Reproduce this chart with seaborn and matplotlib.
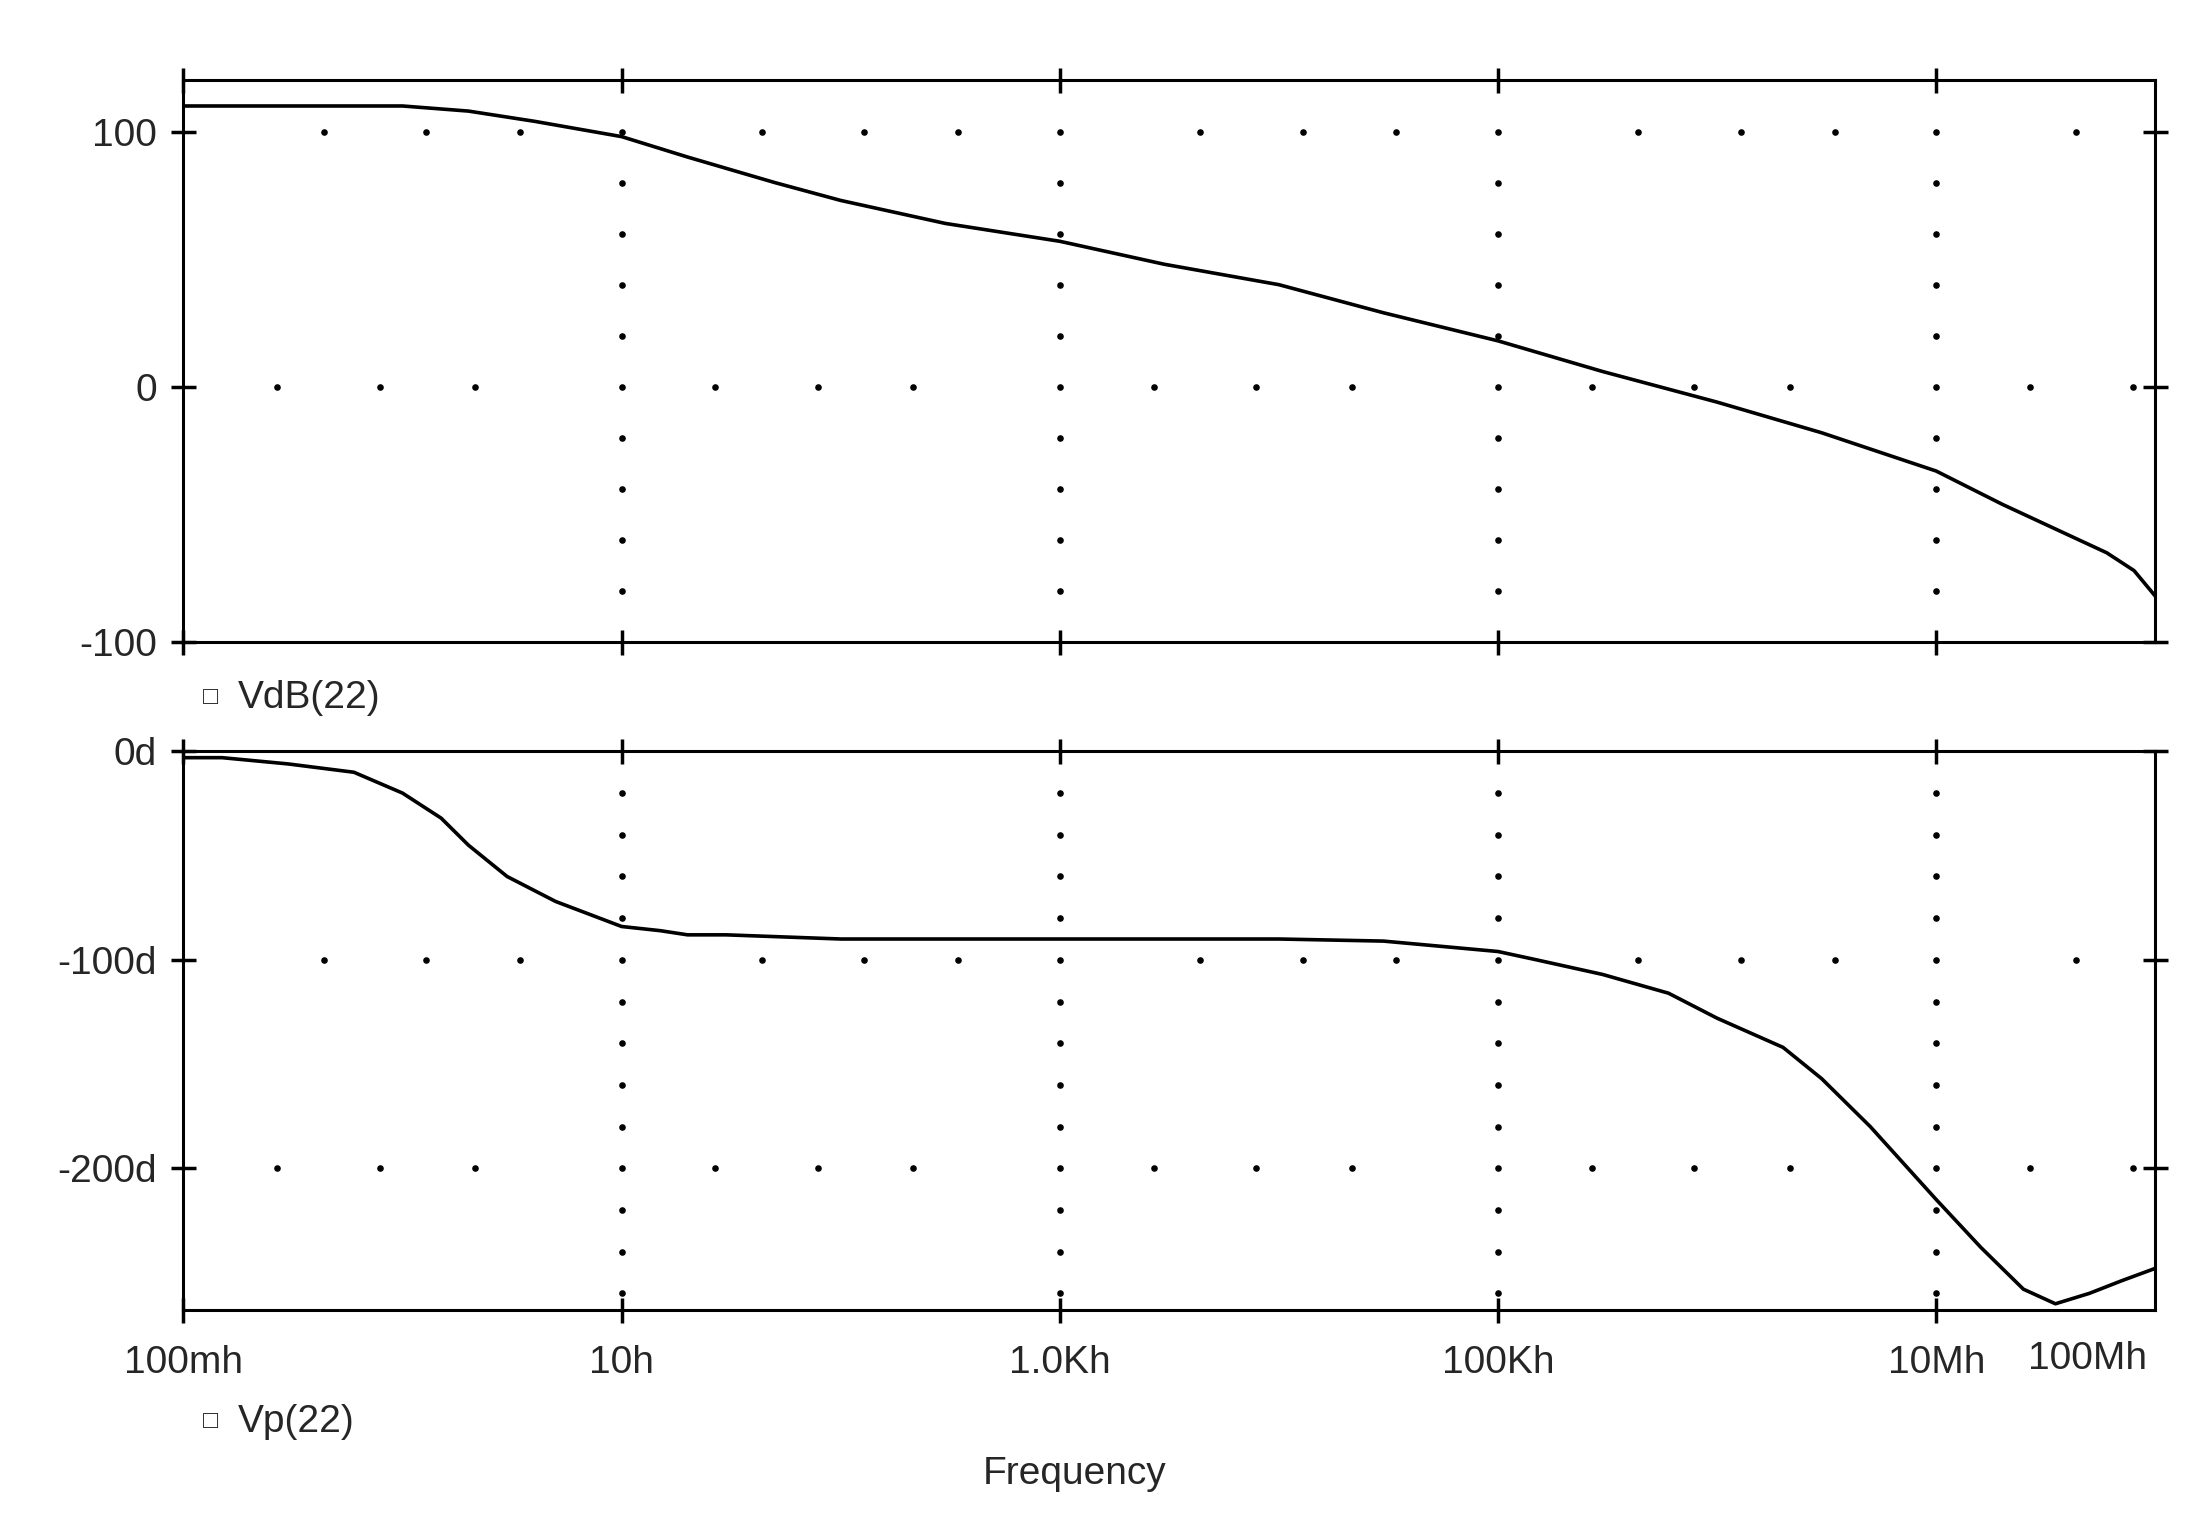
import numpy as np
import matplotlib
matplotlib.use("Agg")
import matplotlib.pyplot as plt
import seaborn as sns

sns.set_theme(style="white")
plt.rcParams['font.family'] = ['Liberation Sans', 'DejaVu Sans']

freq_mag = [0.1, 0.3, 0.5, 1, 2, 4, 10, 20, 50, 100, 300, 1e3, 3e3, 1e4, 3e4, 1e5, 3e5, 1e6, 3e6, 1e7, 2e7, 4e7, 6e7, 8e7, 1e8]
mag_db   = [110, 110, 110, 110, 108, 104, 98, 90, 80, 73, 64, 57, 48, 40, 29, 18, 6, -6, -18, -33, -46, -58, -65, -72, -82]
freq_ph = [0.1, 0.15, 0.3, 0.6, 1, 1.5, 2, 3, 5, 10, 15, 20, 30, 100, 1e3, 1e4, 3e4, 1e5, 1.5e5, 3e5, 6e5, 1e6, 2e6, 3e6, 5e6, 1e7, 1.6e7, 2.5e7, 3.5e7, 5e7, 7e7, 1e8]
phase   = [-3, -3, -6, -10, -20, -32, -45, -60, -72, -84, -86, -88, -88, -90, -90, -90, -91, -96, -100, -107, -116, -128, -142, -157, -180, -215, -238, -258, -265, -260, -254, -248]

xmin, xmax = 0.1, 1e8
fig = plt.figure(figsize=(22.02, 15.18), dpi=100)
ax1 = fig.add_axes([0.0833, 0.577, 0.8955, 0.370])
ax2 = fig.add_axes([0.0833, 0.137, 0.8955, 0.368])

rowA = [0.32, 0.554, 0.768]
rowB = [0.214, 0.448, 0.666]
decs = [0.1, 10, 1e3, 1e5, 1e7]

def dots(ax, ylevelsA, ylevelsB, vlevels):
    xs, ys = [], []
    for d in decs:
        for fr in rowA:
            x = d * 10 ** (2 * fr)
            if x < xmax * 0.98:
                for y in ylevelsA:
                    xs.append(x); ys.append(y)
        for fr in rowB:
            x = d * 10 ** (2 * fr)
            if x < xmax * 0.98:
                for y in ylevelsB:
                    xs.append(x); ys.append(y)
    for d in [10, 1e3, 1e5, 1e7]:
        for y in vlevels:
            xs.append(d); ys.append(y)
    ax.scatter(xs, ys, s=14, color='black', zorder=1)

for ax in (ax1, ax2):
    ax.set_xscale('log')
    ax.set_xlim(xmin, xmax)
    for s in ax.spines.values():
        s.set_color('black'); s.set_linewidth(2.2)
    ax.tick_params(axis='both', which='major', direction='inout', length=18, width=2.5, labelsize=28, pad=10, top=True, right=True, left=True, bottom=True, color='black')
    ax.tick_params(axis='x', which='minor', bottom=False, top=False)
    ax.set_xticks([0.1, 10, 1e3, 1e5, 1e7])

sns.lineplot(x=freq_mag, y=mag_db, ax=ax1, color='black', linewidth=2.6, zorder=3)
ax1.set_ylim(-100, 120)
ax1.set_yticks([-100, 0, 100])
ax1.set_yticklabels(['-100', '0', '100'])
ax1.set_xticklabels([])
dots(ax1, [100], [0], [80, 60, 40, 20, -20, -40, -60, -80, 100, 0])

sns.lineplot(x=freq_ph, y=phase, ax=ax2, color='black', linewidth=2.6, zorder=3)
ax2.set_ylim(-268, 0)
ax2.set_yticks([-200, -100, 0])
ax2.set_yticklabels(['-200d', '-100d', '0d'])
ax2.set_xticklabels(['100mh', '10h', '1.0Kh', '100Kh', '10Mh'])
ax2.tick_params(axis='x', pad=16)
ax2.text(4.9e7, -283, '100Mh', ha='center', va='top', fontsize=28)
dots(ax2, [-100], [-200], [-20, -40, -60, -80, -120, -140, -160, -180, -220, -240, -260, -100, -200])
for ax in (ax1, ax2):
    ax.set_xlabel(''); ax.set_ylabel('')

fig.text(0.0955, 0.541, '\u25a1', fontsize=18, va='center', ha='center', fontweight='bold')
fig.text(0.108, 0.540, 'VdB(22)', fontsize=28, va='center')
fig.text(0.0955, 0.064, '\u25a1', fontsize=18, va='center', ha='center', fontweight='bold')
fig.text(0.108, 0.063, 'Vp(22)', fontsize=28, va='center')
fig.text(0.488, 0.029, 'Frequency', fontsize=28, ha='center', va='center')

fig.savefig('out.png', dpi=100, facecolor='white')
